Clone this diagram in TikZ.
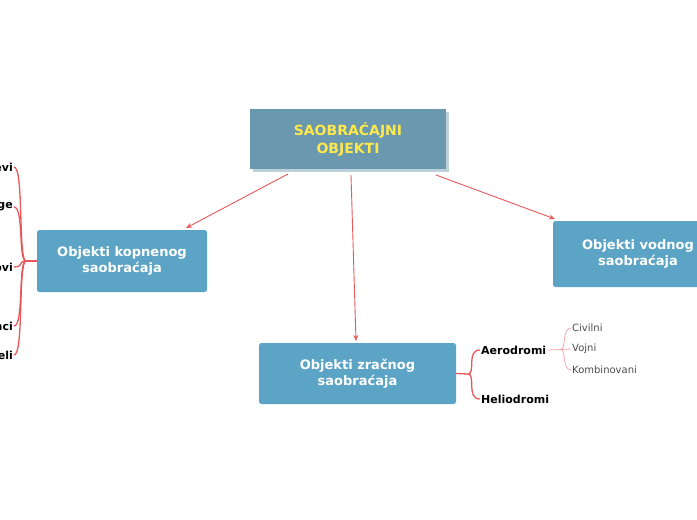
\documentclass[tikz,border=0pt]{standalone}
\usepackage{fontspec}
\setmainfont{DejaVu Sans}
\usetikzlibrary{arrows.meta}
\definecolor{boxc}{HTML}{5BA4C6}
\definecolor{rootc}{HTML}{6A98AE}
\definecolor{edgec}{HTML}{E8585A}
\definecolor{subc}{HTML}{F4AAAA}
\definecolor{titc}{HTML}{FFE94A}
\begin{document}
\begin{tikzpicture}[x=1pt,y=-1pt,
  box/.style={fill=boxc,rounded corners=2.5pt,text=white,font=\bfseries\fontsize{13}{16}\selectfont,align=center,inner sep=0},
  lab/.style={font=\bfseries\fontsize{11}{13}\selectfont,inner sep=1pt},
  sub/.style={font=\fontsize{10}{12}\selectfont,text=black!70,inner sep=1pt,anchor=west},
  arr/.style={draw=edgec,line width=0.9pt,-{Stealth[length=6pt,width=5pt]}},
  br/.style={draw=edgec,line width=1.3pt},
  sbr/.style={draw=subc,line width=0.8pt}]
\path[use as bounding box] (0,0) rectangle (697,520);
\clip (0,0) rectangle (697,520);
\fill[white] (0,0) rectangle (697,520);
% root
\fill[rootc!45] (253,112) rectangle (449,172);
\node[fill=rootc,minimum width=196pt,minimum height=60pt,inner sep=0,align=center,text=titc,font=\bfseries\fontsize{14}{18}\selectfont] (root) at (348,139) {SAOBRAĆAJNI\\OBJEKTI};
\node[box,minimum width=170pt,minimum height=62pt] (kop) at (122,261) {Objekti kopnenog\\saobraćaja};
\node[box,minimum width=197pt,minimum height=61pt] (zra) at (357.5,373.5) {Objekti zračnog\\saobraćaja};
\node[box,minimum width=170pt,minimum height=66pt] (vod) at (638,254) {Objekti vodnog\\saobraćaja};
\coordinate (r1) at (288,174); \coordinate (r2) at (351,175); \coordinate (r3) at (436,175);
\draw[arr] (r1) -- (186,228);
\draw[arr] (r2) -- (356,341);
\draw[arr] (r3) -- (555,219);
% left labels
\foreach \t/\y/\n in {evi/167/l1,ge/207/l2,ovi/267/l3,nci/326/l4,eli/355/l5}{
  \node[lab,anchor=east] (\n) at (14,\y) {\t};
  \draw[br] (kop.west) -- (26,261) .. controls (18,261) and (24,\y) .. (\n.east);
}
% zracnog children
\node[lab,anchor=west] (aer) at (480,350) {Aerodromi};
\node[lab,anchor=west] (hel) at (480,399) {Heliodromi};
\draw[br] (zra.east) -- (468,374) .. controls (476,374) and (466,350) .. (aer.west);
\draw[br] (468,374) .. controls (476,374) and (466,399) .. (hel.west);
\node[sub] (c1) at (571,328) {Civilni};
\node[sub] (c2) at (571,349) {Vojni};
\node[sub] (c3) at (571,370) {Kombinovani};
\draw[sbr] (aer.east) -- (561,349.5) -- (c2.west);
\draw[sbr] (561,349.5) .. controls (566,349.5) and (562,328) .. (c1.west);
\draw[sbr] (561,349.5) .. controls (566,349.5) and (562,370) .. (c3.west);
\end{tikzpicture}
\end{document}
